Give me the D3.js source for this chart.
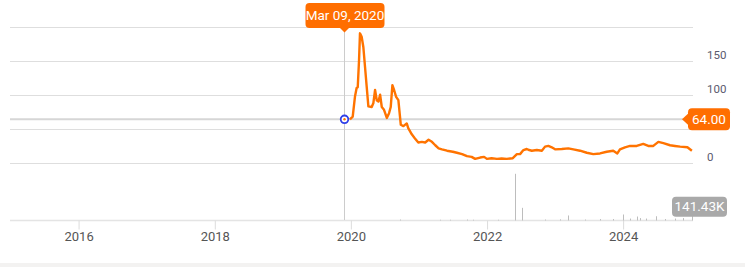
<!DOCTYPE html>
<html>
<head>
<meta charset="utf-8">
<script src="https://cdn.jsdelivr.net/npm/d3@7"></script>
<style>
  body { margin: 0; background: #fff; font-family: Roboto, "Noto Sans", sans-serif; }
  svg { display: block; }
</style>
</head>
<body>
<div id="vis"></div>
<script>
// price series
var priceDates = ["2019-11-25","2019-12-27","2020-01-11","2020-01-23","2020-02-01","2020-02-07","2020-02-14","2020-02-19",
  "2020-02-28","2020-03-08","2020-03-17","2020-03-26","2020-04-04","2020-04-22","2020-05-01","2020-05-10","2020-05-19",
  "2020-05-28","2020-06-06","2020-06-15","2020-06-27","2020-07-12","2020-07-24","2020-08-02","2020-08-11","2020-08-20",
  "2020-08-31","2020-09-12","2020-09-25","2020-10-09","2020-10-27","2020-11-04","2020-11-23","2020-12-10","2020-12-28",
  "2021-01-16","2021-02-03","2021-02-21","2021-03-11","2021-03-29","2021-04-16","2021-05-04","2021-05-31","2021-07-01",
  "2021-07-23","2021-08-20","2021-09-15","2021-10-10","2021-10-29","2021-11-25","2021-12-16","2021-12-31","2022-01-25",
  "2022-02-23","2022-03-20","2022-04-17","2022-05-19","2022-06-10","2022-06-27","2022-07-15","2022-08-02","2022-08-15",
  "2022-08-29","2022-09-25","2022-10-22","2022-11-08","2022-11-26","2022-12-14","2023-01-01","2023-02-06","2023-03-13",
  "2023-04-09","2023-05-15","2023-06-20","2023-07-25","2023-08-30","2023-10-05","2023-11-09","2023-12-01","2023-12-15",
  "2024-01-11","2024-02-07","2024-03-14","2024-04-18","2024-05-15","2024-06-11","2024-07-08","2024-08-04","2024-09-09",
  "2024-10-05","2024-11-02","2024-12-11","2025-01-04"];
var priceValues = [64,64,68,97,110,111,151,190,
  185,170,141,112,83,82,88,107,92,
  90,100,82,78,66,73,82,114,107,
  97,92,56,54,58,51,42,36,30,
  31,30,34,31,26,21.5,20,18,16.5,
  15,13,10,9,6,8,9,6,7,
  6,6.5,6,7,13,13,19,20.5,19,
  18,19,18,24,25,23,20,20.5,21.5,
  20,18,15,13,14,16.5,18,14,20,
  23,25,25,28,25,25,31,29,26,
  25,24,23,18];

// volume series
var volumeDates = ["2020-09-21","2021-04-25","2021-06-17","2021-09-16","2021-10-18","2022-03-01","2022-05-31","2022-07-06",
  "2022-11-08","2023-01-28","2023-03-10","2023-06-10","2023-08-30","2023-11-07","2024-01-02","2024-02-07","2024-03-14",
  "2024-04-01","2024-05-03","2024-06-26","2024-08-13","2024-10-06","2024-11-17","2025-01-04"];
var volumeValues = [10000,8000,8000,10000,8000,8000,483000,131000,
  10000,12000,52000,10000,15000,15000,62000,20000,41000,
  25000,20000,44000,15000,20000,25000,141430];

var xTickYears = [2016, 2018, 2020, 2022, 2024];
var yGridValues = [0, 50, 100, 150, 200];
var yLabelValues = [0, 100, 150];

var hoverLabel = "Mar 09, 2020";
var lastPriceLabel = "64.00";
var lastVolumeLabel = "141.43K";

var width = 745, height = 267;
var parse = d3.timeParse("%Y-%m-%d");

var prices = priceDates.map(function(d, i) { return { date: parse(d), value: priceValues[i] }; });
var volumes = volumeDates.map(function(d, i) { return { date: parse(d), value: volumeValues[i] }; });

var svg = d3.select('#vis').append('svg')
    .attr('width', width)
    .attr('height', height);

var x = d3.scaleTime()
    .domain([parse("2014-12-29"), parse("2025-01-10")])
    .range([10, 693]);

var y = d3.scaleLinear()
    .domain([0, 200])
    .range([163, 26.5]);

var yVol = d3.scaleLinear()
    .domain([0, 600000])
    .range([220.5, 162.5]);

// bottom grey band
svg.append('rect')
    .attr('x', 0).attr('y', 263).attr('width', width).attr('height', 4)
    .attr('fill', '#f3f2f1');

// grid lines
svg.selectAll('.grid')
    .data(yGridValues)
    .enter().append('line')
    .attr('class', 'grid')
    .attr('x1', 10).attr('x2', 693)
    .attr('y1', function(d) { return Math.round(y(d)) + 0.5; })
    .attr('y2', function(d) { return Math.round(y(d)) + 0.5; })
    .attr('stroke', '#dedede');

// y labels
svg.selectAll('.ylab')
    .data(yLabelValues)
    .enter().append('text')
    .attr('class', 'ylab')
    .attr('x', 707)
    .attr('y', function(d) { return y(d) - 2; })
    .attr('font-size', '11.5px')
    .attr('fill', '#5a5a6e')
    .text(function(d) { return d; });

// x axis
var xAxis = d3.axisBottom(x)
    .tickValues(xTickYears.map(function(yr) { return new Date(yr, 0, 1); }))
    .tickFormat(d3.timeFormat("%Y"))
    .tickSize(9)
    .tickSizeOuter(0);

var gx = svg.append('g')
    .attr('class', 'x axis')
    .attr('transform', 'translate(0,220.5)')
    .call(xAxis);
gx.select('.domain').attr('stroke', '#e4e4e4').attr('stroke-width', 1.5)
    .attr('d', 'M10,0H693');
gx.selectAll('.tick line').attr('stroke', '#dcdcdc');
gx.selectAll('.tick text')
    .attr('fill', '#555')
    .attr('font-size', '13px')
    .attr('font-family', 'Roboto, sans-serif')
    .attr('dy', '0.9em')
    .attr('y', 9);

// volume bars
svg.selectAll('.vol')
    .data(volumes)
    .enter().append('rect')
    .attr('class', 'vol')
    .attr('x', function(d) { return Math.round(x(d.date)); })
    .attr('width', 1)
    .attr('y', function(d) { return yVol(d.value); })
    .attr('height', function(d) { return yVol(0) - yVol(d.value); })
    .attr('fill', '#bdbdbd');

// crosshair
var cx = Math.round(x(prices[0].date)) + 0.5;
var cy = y(prices[0].value);

svg.append('line')
    .attr('x1', 10).attr('x2', 684)
    .attr('y1', y(64)).attr('y2', y(64))
    .attr('stroke', '#d6d6d6').attr('stroke-width', 2);

svg.append('line')
    .attr('x1', cx).attr('x2', cx)
    .attr('y1', 31).attr('y2', 220)
    .attr('stroke', '#cccccc');

// price line
var line = d3.line()
    .x(function(d) { return x(d.date); })
    .y(function(d) { return y(d.value); });

svg.append('path')
    .datum(prices.slice(1))
    .attr('d', line)
    .attr('fill', 'none')
    .attr('stroke', '#ff7300')
    .attr('stroke-width', 2.4)
    .attr('stroke-linejoin', 'round');

// hover marker
svg.append('circle')
    .attr('cx', cx).attr('cy', cy).attr('r', 3.8)
    .attr('fill', '#fff').attr('stroke', '#2f3fe8').attr('stroke-width', 1.8);
svg.append('circle')
    .attr('cx', cx).attr('cy', cy).attr('r', 1.2)
    .attr('fill', '#ff7300');

// date tooltip
var tip = svg.append('g');
tip.append('rect')
    .attr('x', cx - 39).attr('y', 3).attr('width', 79).attr('height', 25).attr('rx', 4)
    .attr('fill', '#ff6e00');
tip.append('path')
    .attr('d', 'M' + (cx - 5) + ',27.5L' + (cx + 5) + ',27.5L' + cx + ',32.5Z')
    .attr('fill', '#ff6e00');
tip.append('text')
    .attr('x', cx + 0.5).attr('y', 20)
    .attr('text-anchor', 'middle')
    .attr('font-size', '13.5px')
    .attr('fill', '#fff')
    .text(hoverLabel);

// last price badge
var py = y(64);
svg.append('rect')
    .attr('x', 688).attr('y', py - 11).attr('width', 42).attr('height', 22).attr('rx', 4)
    .attr('fill', '#ff6e00');
svg.append('path')
    .attr('d', 'M688.5,' + (py - 6) + 'L682,' + py + 'L688.5,' + (py + 6) + 'Z')
    .attr('fill', '#ff6e00');
svg.append('text')
    .attr('x', 709).attr('y', py + 4.5)
    .attr('text-anchor', 'middle')
    .attr('font-size', '13.5px')
    .attr('fill', '#fff')
    .text(lastPriceLabel);

// last volume badge
var vy = yVol(volumeValues[volumeValues.length - 1]);
svg.append('rect')
    .attr('x', 672).attr('y', vy - 10).attr('width', 55).attr('height', 20).attr('rx', 4)
    .attr('fill', '#a9a9a9');
svg.append('text')
    .attr('x', 699.5).attr('y', vy + 4.5)
    .attr('text-anchor', 'middle')
    .attr('font-size', '13.5px')
    .attr('fill', '#fff')
    .text(lastVolumeLabel);
</script>
</body>
</html>
